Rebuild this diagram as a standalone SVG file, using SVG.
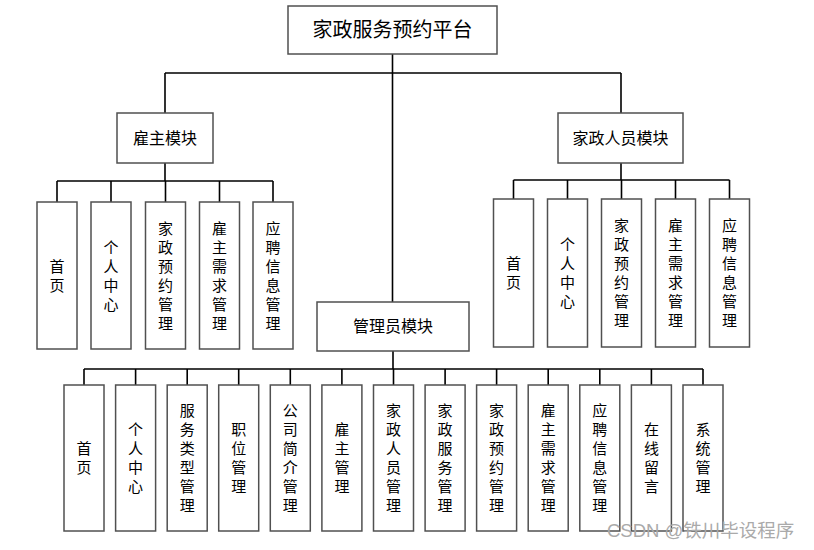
<svg xmlns="http://www.w3.org/2000/svg" width="814" height="550" viewBox="0 0 814 550">
<style>
.box{fill:#fff;stroke:#505050;stroke-width:1.5}
.ln{stroke:#000;stroke-width:1.6;fill:none}
.t{font-family:"Noto Sans CJK SC","Liberation Sans",sans-serif;font-size:15px;fill:#000;text-anchor:middle}
.m{font-size:16px}
.h{font-size:20px}
.wm{font-family:"Liberation Sans","Noto Sans CJK SC",sans-serif;font-size:18.5px;fill:#aaaaaa}
</style>
<rect width="814" height="550" fill="#fff"/>
<g id="connectors">
<path class="ln" d="M392.5 54V302M165 73H621M165 73V113M621 73V113"/>
<path class="ln" d="M165 163V181M57 181H273M57 181V202M111 181V202M165.5 181V202M219.5 181V202M273 181V202"/>
<path class="ln" d="M621 163V180M513.5 180H729.5M513.5 180V199M567.5 180V199M621.5 180V199M675.5 180V199M729.5 180V199"/>
<path class="ln" d="M393 351V369M84 369H703M84 369V385M135.6 369V385M187.2 369V385M238.7 369V385M290.3 369V385M341.9 369V385M393.5 369V385M445.1 369V385M496.6 369V385M548.2 369V385M599.8 369V385M651.4 369V385M703 369V385"/>
</g>
<g id="root"><rect class="box" x="288" y="6" width="209" height="48"/><text class="t h" x="392.5" y="37">家政服务预约平台</text></g>
<g id="employer"><rect class="box" x="117" y="113" width="96" height="50"/><text class="t m" x="165" y="144">雇主模块</text></g>
<g id="staff"><rect class="box" x="558" y="113" width="125" height="50"/><text class="t m" x="620.5" y="144">家政人员模块</text></g>
<g id="admin"><rect class="box" x="317" y="302" width="152" height="49"/><text class="t m" x="393" y="332">管理员模块</text></g>

<g id="e1"><rect class="box" x="37" y="202" width="40" height="147"/><text class="t"><tspan x="57" y="271.5">首</tspan><tspan x="57" y="290.5">页</tspan></text></g>
<g id="e2"><rect class="box" x="91" y="202" width="40" height="147"/><text class="t"><tspan x="111" y="252.5">个</tspan><tspan x="111" y="271.5">人</tspan><tspan x="111" y="290.5">中</tspan><tspan x="111" y="309.5">心</tspan></text></g>
<g id="e3"><rect class="box" x="145.5" y="202" width="40" height="147"/><text class="t"><tspan x="165.5" y="233.5">家</tspan><tspan x="165.5" y="252.5">政</tspan><tspan x="165.5" y="271.5">预</tspan><tspan x="165.5" y="290.5">约</tspan><tspan x="165.5" y="309.5">管</tspan><tspan x="165.5" y="328.5">理</tspan></text></g>
<g id="e4"><rect class="box" x="199.5" y="202" width="40" height="147"/><text class="t"><tspan x="219.5" y="233.5">雇</tspan><tspan x="219.5" y="252.5">主</tspan><tspan x="219.5" y="271.5">需</tspan><tspan x="219.5" y="290.5">求</tspan><tspan x="219.5" y="309.5">管</tspan><tspan x="219.5" y="328.5">理</tspan></text></g>
<g id="e5"><rect class="box" x="253" y="202" width="40" height="147"/><text class="t"><tspan x="273" y="233.5">应</tspan><tspan x="273" y="252.5">聘</tspan><tspan x="273" y="271.5">信</tspan><tspan x="273" y="290.5">息</tspan><tspan x="273" y="309.5">管</tspan><tspan x="273" y="328.5">理</tspan></text></g>

<g id="s1"><rect class="box" x="493.5" y="199" width="40" height="148"/><text class="t"><tspan x="513.5" y="269">首</tspan><tspan x="513.5" y="288">页</tspan></text></g>
<g id="s2"><rect class="box" x="547.5" y="199" width="40" height="148"/><text class="t"><tspan x="567.5" y="250">个</tspan><tspan x="567.5" y="269">人</tspan><tspan x="567.5" y="288">中</tspan><tspan x="567.5" y="307">心</tspan></text></g>
<g id="s3"><rect class="box" x="601.5" y="199" width="40" height="148"/><text class="t"><tspan x="621.5" y="231">家</tspan><tspan x="621.5" y="250">政</tspan><tspan x="621.5" y="269">预</tspan><tspan x="621.5" y="288">约</tspan><tspan x="621.5" y="307">管</tspan><tspan x="621.5" y="326">理</tspan></text></g>
<g id="s4"><rect class="box" x="655.5" y="199" width="40" height="148"/><text class="t"><tspan x="675.5" y="231">雇</tspan><tspan x="675.5" y="250">主</tspan><tspan x="675.5" y="269">需</tspan><tspan x="675.5" y="288">求</tspan><tspan x="675.5" y="307">管</tspan><tspan x="675.5" y="326">理</tspan></text></g>
<g id="s5"><rect class="box" x="709.5" y="199" width="40" height="148"/><text class="t"><tspan x="729.5" y="231">应</tspan><tspan x="729.5" y="250">聘</tspan><tspan x="729.5" y="269">信</tspan><tspan x="729.5" y="288">息</tspan><tspan x="729.5" y="307">管</tspan><tspan x="729.5" y="326">理</tspan></text></g>

<g id="a1"><rect class="box" x="64" y="385" width="40" height="146"/><text class="t"><tspan x="84" y="454">首</tspan><tspan x="84" y="473">页</tspan></text></g>
<g id="a2"><rect class="box" x="115.6" y="385" width="40" height="146"/><text class="t"><tspan x="135.6" y="435">个</tspan><tspan x="135.6" y="454">人</tspan><tspan x="135.6" y="473">中</tspan><tspan x="135.6" y="492">心</tspan></text></g>
<g id="a3"><rect class="box" x="167.2" y="385" width="40" height="146"/><text class="t"><tspan x="187.2" y="416">服</tspan><tspan x="187.2" y="435">务</tspan><tspan x="187.2" y="454">类</tspan><tspan x="187.2" y="473">型</tspan><tspan x="187.2" y="492">管</tspan><tspan x="187.2" y="511">理</tspan></text></g>
<g id="a4"><rect class="box" x="218.7" y="385" width="40" height="146"/><text class="t"><tspan x="238.7" y="435">职</tspan><tspan x="238.7" y="454">位</tspan><tspan x="238.7" y="473">管</tspan><tspan x="238.7" y="492">理</tspan></text></g>
<g id="a5"><rect class="box" x="270.3" y="385" width="40" height="146"/><text class="t"><tspan x="290.3" y="416">公</tspan><tspan x="290.3" y="435">司</tspan><tspan x="290.3" y="454">简</tspan><tspan x="290.3" y="473">介</tspan><tspan x="290.3" y="492">管</tspan><tspan x="290.3" y="511">理</tspan></text></g>
<g id="a6"><rect class="box" x="321.9" y="385" width="40" height="146"/><text class="t"><tspan x="341.9" y="435">雇</tspan><tspan x="341.9" y="454">主</tspan><tspan x="341.9" y="473">管</tspan><tspan x="341.9" y="492">理</tspan></text></g>
<g id="a7"><rect class="box" x="373.5" y="385" width="40" height="146"/><text class="t"><tspan x="393.5" y="416">家</tspan><tspan x="393.5" y="435">政</tspan><tspan x="393.5" y="454">人</tspan><tspan x="393.5" y="473">员</tspan><tspan x="393.5" y="492">管</tspan><tspan x="393.5" y="511">理</tspan></text></g>
<g id="a8"><rect class="box" x="425.1" y="385" width="40" height="146"/><text class="t"><tspan x="445.1" y="416">家</tspan><tspan x="445.1" y="435">政</tspan><tspan x="445.1" y="454">服</tspan><tspan x="445.1" y="473">务</tspan><tspan x="445.1" y="492">管</tspan><tspan x="445.1" y="511">理</tspan></text></g>
<g id="a9"><rect class="box" x="476.6" y="385" width="40" height="146"/><text class="t"><tspan x="496.6" y="416">家</tspan><tspan x="496.6" y="435">政</tspan><tspan x="496.6" y="454">预</tspan><tspan x="496.6" y="473">约</tspan><tspan x="496.6" y="492">管</tspan><tspan x="496.6" y="511">理</tspan></text></g>
<g id="a10"><rect class="box" x="528.2" y="385" width="40" height="146"/><text class="t"><tspan x="548.2" y="416">雇</tspan><tspan x="548.2" y="435">主</tspan><tspan x="548.2" y="454">需</tspan><tspan x="548.2" y="473">求</tspan><tspan x="548.2" y="492">管</tspan><tspan x="548.2" y="511">理</tspan></text></g>
<g id="a11"><rect class="box" x="579.8" y="385" width="40" height="146"/><text class="t"><tspan x="599.8" y="416">应</tspan><tspan x="599.8" y="435">聘</tspan><tspan x="599.8" y="454">信</tspan><tspan x="599.8" y="473">息</tspan><tspan x="599.8" y="492">管</tspan><tspan x="599.8" y="511">理</tspan></text></g>
<g id="a12"><rect class="box" x="631.4" y="385" width="40" height="146"/><text class="t"><tspan x="651.4" y="435">在</tspan><tspan x="651.4" y="454">线</tspan><tspan x="651.4" y="473">留</tspan><tspan x="651.4" y="492">言</tspan></text></g>
<g id="a13"><rect class="box" x="683" y="385" width="40" height="146"/><text class="t"><tspan x="703" y="435">系</tspan><tspan x="703" y="454">统</tspan><tspan x="703" y="473">管</tspan><tspan x="703" y="492">理</tspan></text></g>

<text class="wm" x="607" y="537">CSDN @铁川毕设程序</text>
</svg>
